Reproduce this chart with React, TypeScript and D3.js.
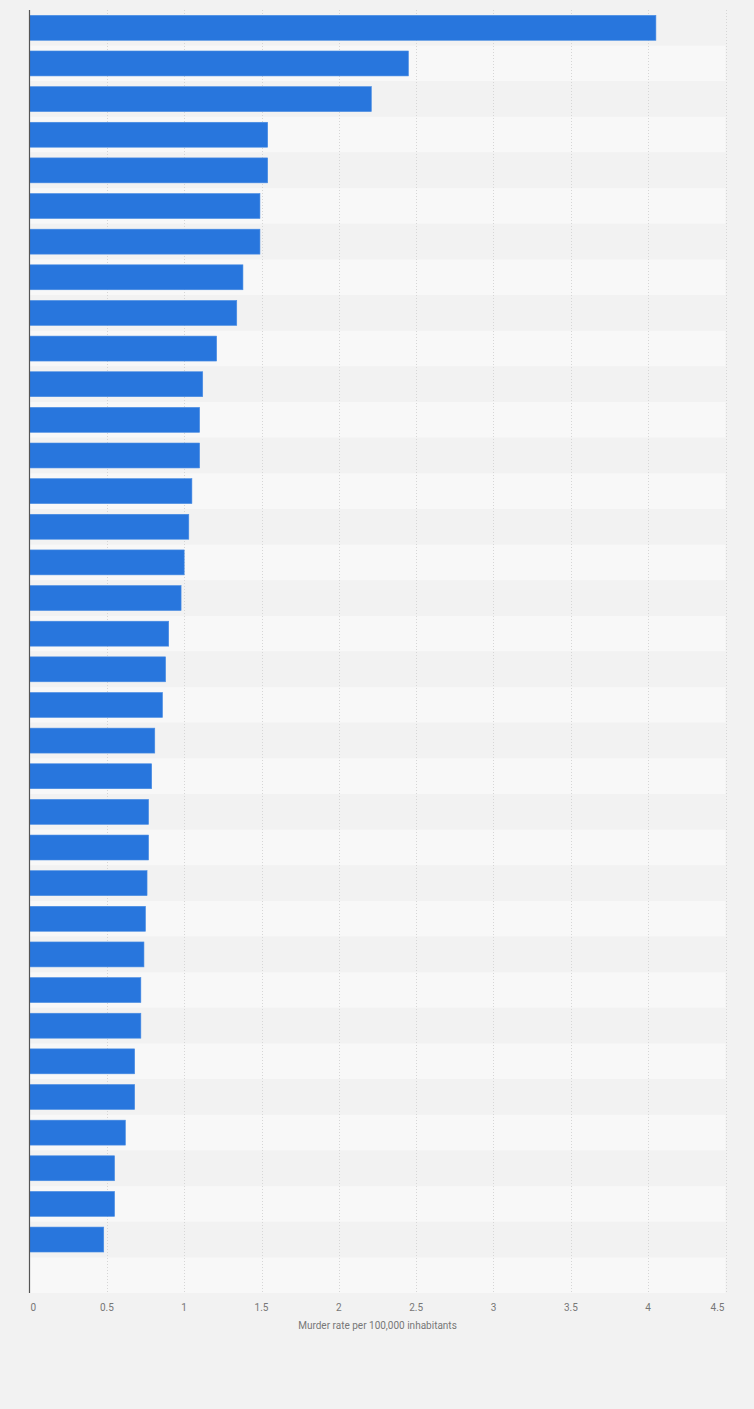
import React from "react";
import * as d3 from "d3";

const categories: string[] = d3.range(1, 37).map((i) => String(i));
const values: (number | null)[] = [
  4.05, 2.45, 2.21, 1.54, 1.54, 1.49, 1.49, 1.38, 1.34, 1.21,
  1.12, 1.1, 1.1, 1.05, 1.03, 1.0, 0.98, 0.9, 0.88, 0.86,
  0.81, 0.79, 0.77, 0.77, 0.76, 0.75, 0.74, 0.72, 0.72, 0.68,
  0.68, 0.62, 0.55, 0.55, 0.48, null,
];
const xTicks: number[] = [0, 0.5, 1, 1.5, 2, 2.5, 3, 3.5, 4, 4.5];
const tickLabels: string[] = ["0", "0.5", "1", "1.5", "2", "2.5", "3", "3.5", "4", "4.5"];
const axisTitle = "Murder rate per 100,000 inhabitants";

const W = 754;
const H = 1409;
const left = 29.5;
const right = 725.5;
const top = 10;
const bottom = 1293;

export default function App() {
  const x = d3.scaleLinear().domain([0, 4.5]).range([left, right]);
  const yBand = d3.scaleBand<string>().domain(categories).range([top, bottom]).padding(0);
  const y = d3
    .scaleBand<string>()
    .domain(categories)
    .range([top, bottom])
    .paddingInner(0.3)
    .paddingOuter(0.15);

  const font = "Roboto, 'Liberation Sans', Arial, sans-serif";

  return (
    <div style={{ position: "absolute", left: 0, top: 0, width: W, height: H }}>
      <svg width={W} height={H} style={{ display: "block" }}>
        <rect x={0} y={0} width={W} height={H} fill="#f2f2f2" />
        {categories.map((c, i) => (
          <rect
            key={"band" + c}
            x={left}
            y={yBand(c)}
            width={right - left}
            height={yBand.bandwidth()}
            fill={i % 2 === 1 ? "#f8f8f8" : "#f2f2f2"}
          />
        ))}
        {xTicks.slice(1).map((t) => (
          <line
            key={"g" + t}
            x1={Math.round(x(t)) + 0.5}
            x2={Math.round(x(t)) + 0.5}
            y1={top}
            y2={bottom}
            stroke="#d6d6d6"
            strokeWidth={1}
            strokeDasharray="1,2"
          />
        ))}
        {categories.map((c, i) => {
          const v = values[i];
          if (v == null) return null;
          return (
            <rect
              key={"bar" + c}
              x={x(0)}
              y={y(c)}
              width={x(v) - x(0)}
              height={y.bandwidth()}
              fill="#2876dd"
              stroke="#4a8de3"
              strokeWidth={0.6}
            />
          );
        })}
        <line x1={left} x2={left} y1={top} y2={bottom} stroke="#555" strokeWidth={1.2} />
        {xTicks.map((t, i) => {
          const last = i === xTicks.length - 1;
          const first = i === 0;
          return (
            <text
              key={"t" + t}
              x={first ? x(t) + 1 : last ? x(t) - 1 : x(t)}
              y={1311}
              textAnchor={first ? "start" : last ? "end" : "middle"}
              fontFamily={font}
              fontSize={10}
              fill="#777"
            >
              {tickLabels[i]}
            </text>
          );
        })}
        <text
          x={(left + right) / 2}
          y={1329}
          textAnchor="middle"
          fontFamily={font}
          fontSize={10}
          fill="#777"
        >
          {axisTitle}
        </text>
      </svg>
    </div>
  );
}
